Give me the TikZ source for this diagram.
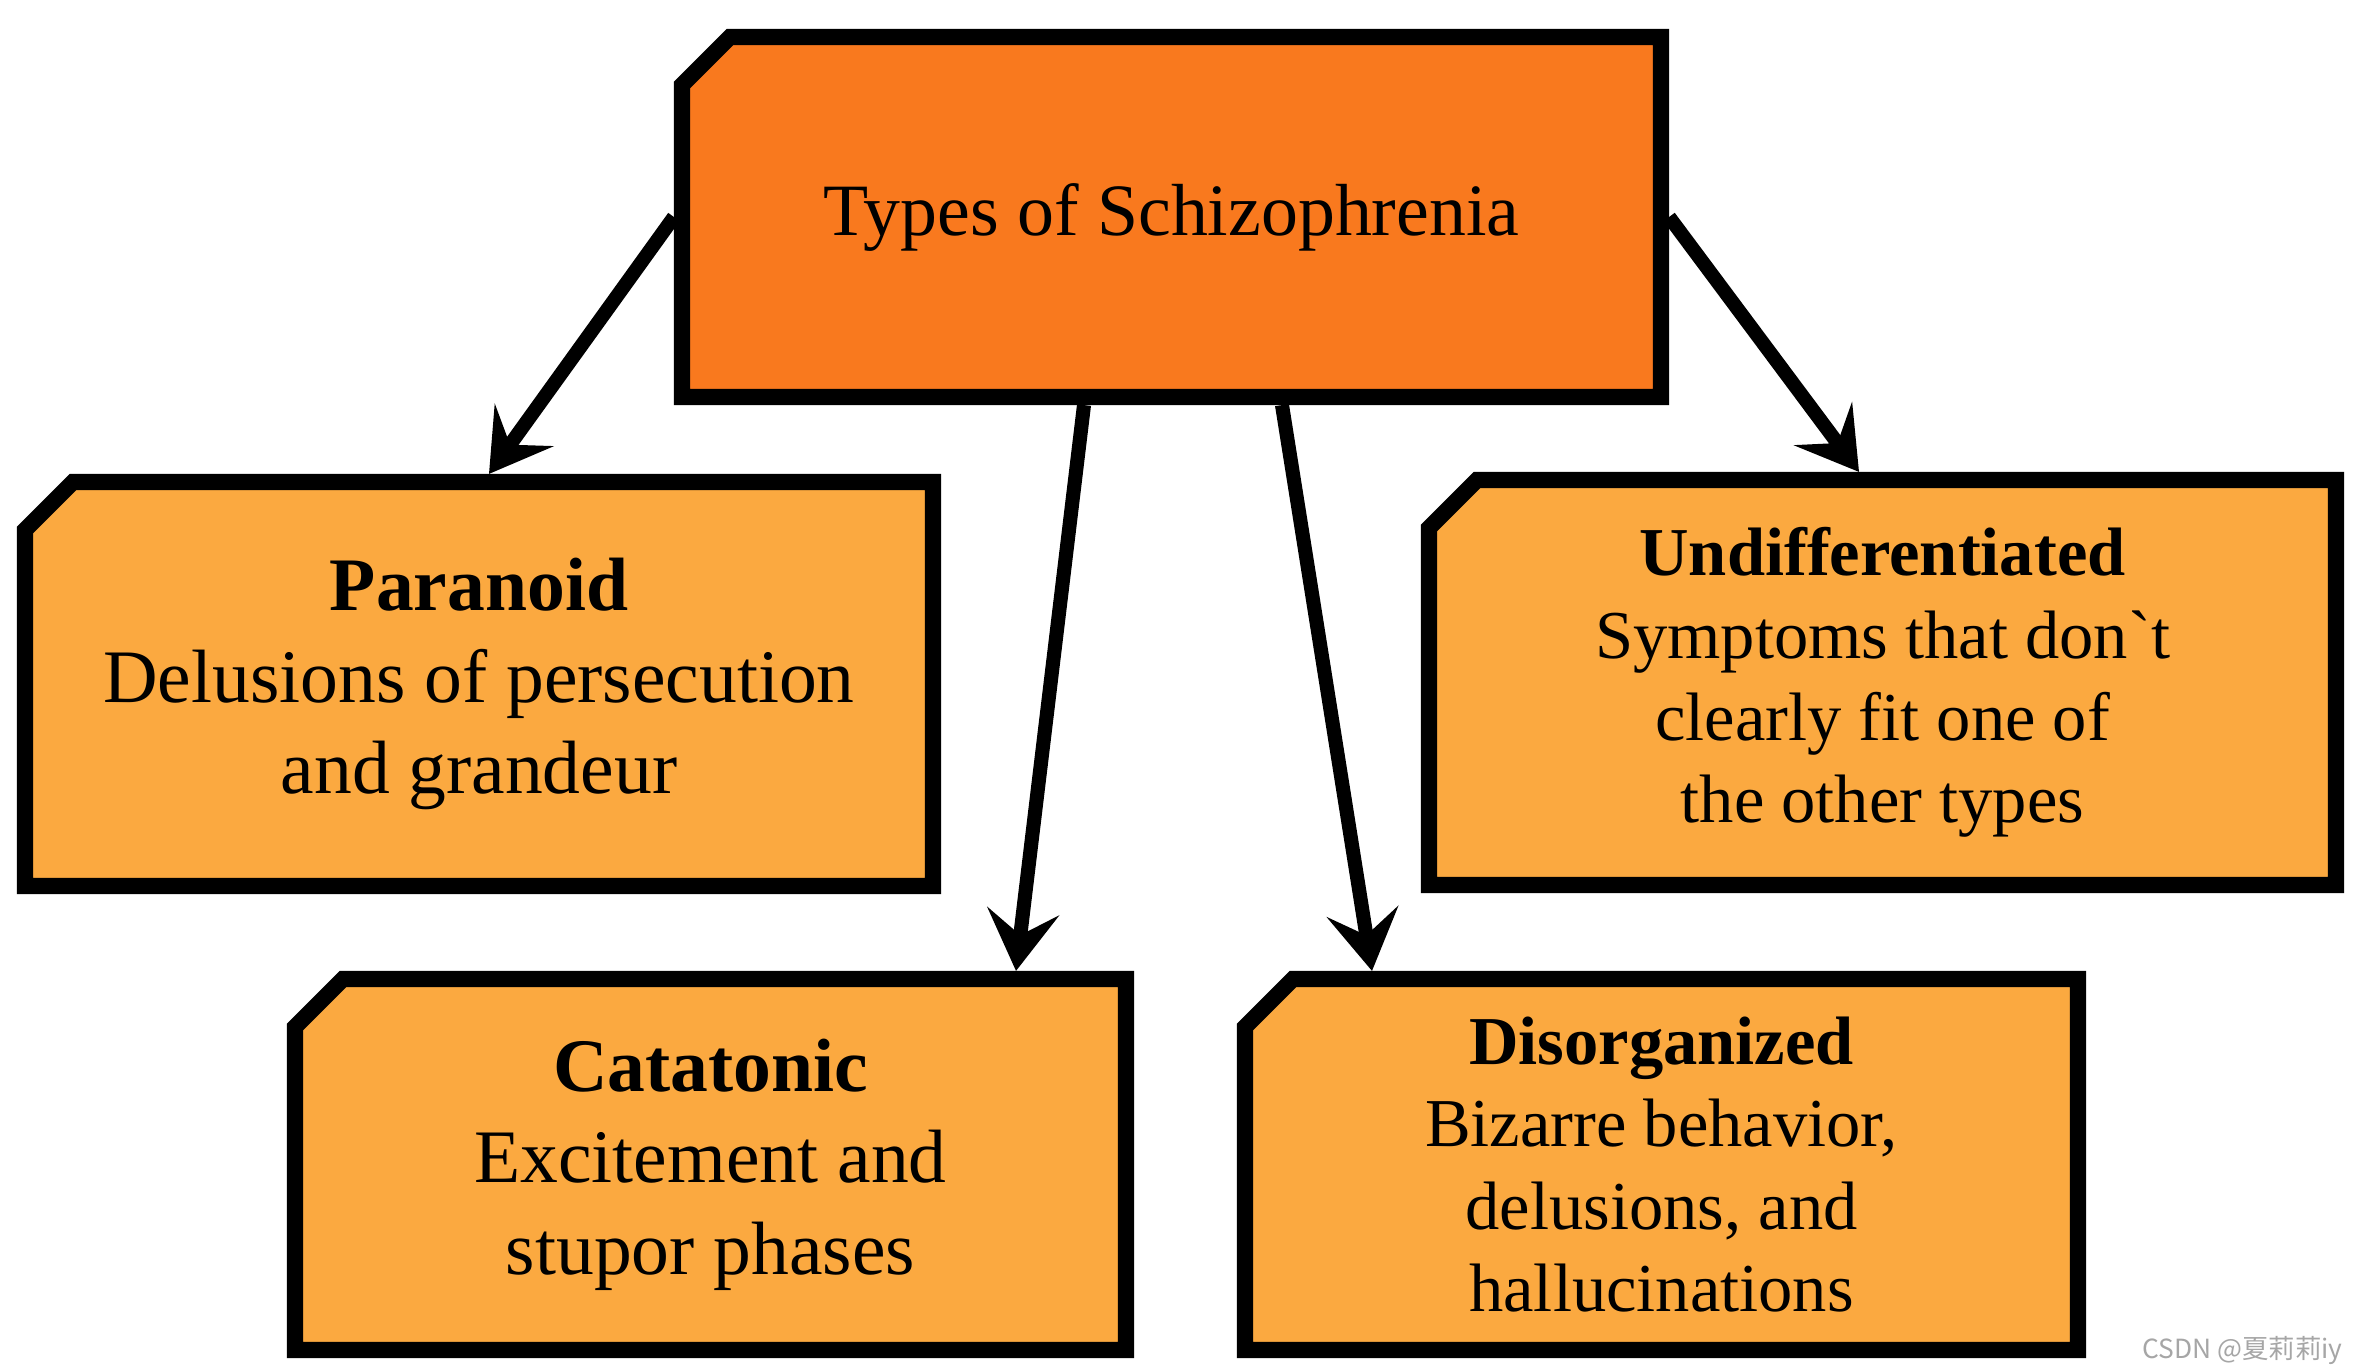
\documentclass[tikz,border=0pt]{standalone}
\usepackage{fontspec}
\setmainfont{Liberation Serif}[Ligatures=TeXOff]
\newfontfamily\cjkfont{Noto Sans CJK SC}
\usetikzlibrary{shapes.misc,arrows.meta}

\definecolor{titleorange}{RGB}{249,121,30}
\definecolor{typeorange}{RGB}{251,169,64}

\begin{document}
\begin{tikzpicture}[
    typebox/.style={chamfered rectangle, chamfered rectangle corners=north west,
        chamfered rectangle xsep=0.24cm, chamfered rectangle ysep=0.24cm,
        draw=black, line width=4.6pt, fill=typeorange, align=center, inner sep=0pt},
    bigtxt/.style={font=\fontsize{21.5}{26}\selectfont},
    smalltxt/.style={font=\fontsize{19.5}{23.4}\selectfont},
    arr/.style={line width=4pt, -{Stealth[length=0.6cm,width=0.72cm,inset=0.24cm]}}]
    \useasboundingbox (0,0) rectangle (23.7,-13.71);

    % main box
    \node[typebox, fill=titleorange, minimum width=9.79cm, minimum height=3.60cm,
        font=\fontsize{21}{25}\selectfont] (types) at (11.715,-2.17) {Types of Schizophrenia};

    % the five types
    \node[typebox, bigtxt, minimum width=9.08cm, minimum height=4.04cm] (paranoid) at (4.79,-6.84)
        {\textbf{Paranoid}\\Delusions of persecution\\and grandeur};
    \node[typebox, smalltxt, minimum width=9.07cm, minimum height=4.05cm] (undiff) at (18.825,-6.825)
        {\textbf{Undifferentiated}\\Symptoms that don`t\\clearly fit one of\\the other types};
    \node[typebox, bigtxt, minimum width=8.31cm, minimum height=3.71cm] (catatonic) at (7.105,-11.645)
        {\textbf{Catatonic}\\Excitement and\\stupor phases};
    \node[typebox, smalltxt, minimum width=8.33cm, minimum height=3.71cm] (disorg) at (16.615,-11.645)
        {\textbf{Disorganized}\\Bizarre behavior,\\delusions, and\\hallucinations};

    \draw[arr] (types.west) -- ([xshift=0.1cm]paranoid.north);
    \draw[arr] ([xshift=-0.875cm]types.south) -- ([xshift=3.055cm]catatonic.north);
    \draw[arr] ([xshift=1.105cm]types.south) -- ([xshift=-2.895cm]disorg.north);
    \draw[arr] (types.east) -- ([xshift=-0.235cm]undiff.north);

    \node[text=gray!70, font=\cjkfont\fontsize{7.5}{9}\selectfont, anchor=east] (mark) at (23.55,-13.50)
        {CSDN @夏莉莉iy};
\end{tikzpicture}
\end{document}
